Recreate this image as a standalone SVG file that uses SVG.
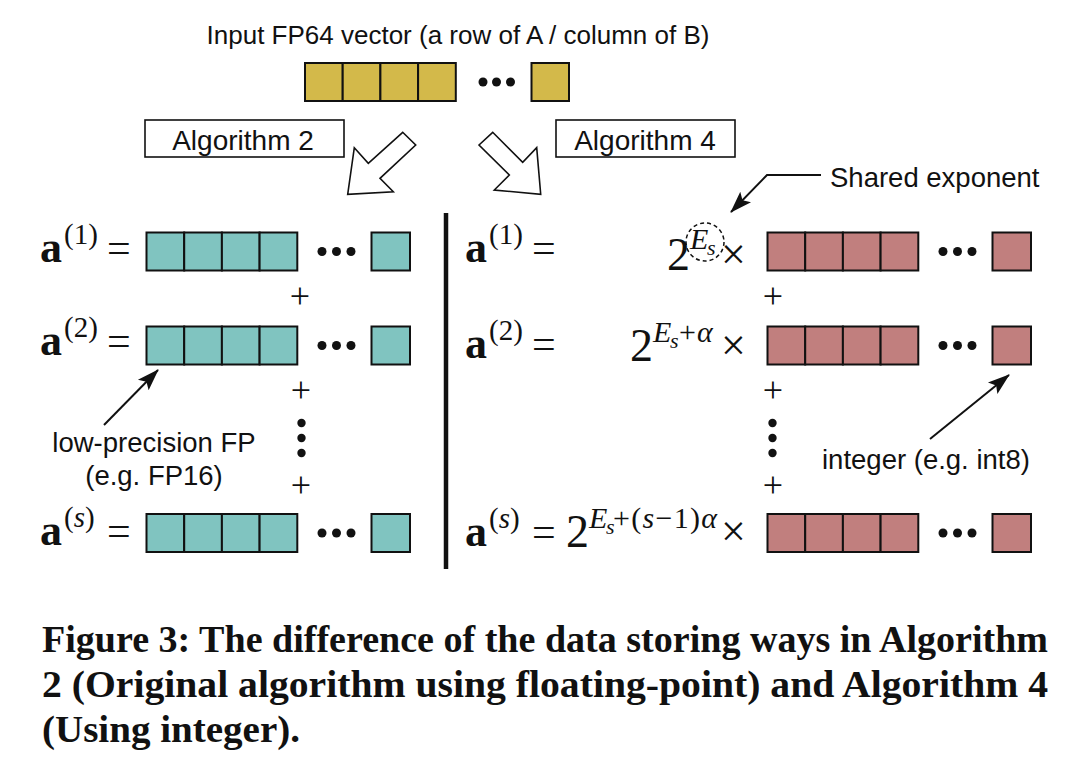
<svg xmlns="http://www.w3.org/2000/svg" width="1075" height="784" viewBox="0 0 1075 784">
<style>
.lbl{font-family:"Liberation Sans",Arial,sans-serif;fill:#111}
.m{font-family:"Liberation Serif","Times New Roman",serif;fill:#111}
.b{font-weight:bold}
.i{font-style:italic}
.cap{font-family:"Liberation Serif","Times New Roman",serif;font-weight:bold;font-size:38px;fill:#111}
.y{fill:#D3B94A;stroke:#111;stroke-width:2}
.t{fill:#80C4C0;stroke:#111;stroke-width:2}
.r{fill:#C17F7E;stroke:#111;stroke-width:2}
.dot{fill:#111}
.box{fill:#fff;stroke:#111;stroke-width:1.6}
.blk{fill:#fff;stroke:#111;stroke-width:1.6;stroke-linejoin:miter}
.ptr{fill:none;stroke:#111;stroke-width:2}
</style>
<defs>
<marker id="ah" markerUnits="userSpaceOnUse" markerWidth="22" markerHeight="18" viewBox="0 0 22 18" refX="21" refY="9" orient="auto">
<path d="M0,1.5 L22,9 L0,16.5 L4.5,9 z" fill="#111"/>
</marker>
<g id="cells4">
<rect x="0" y="0" width="37.7" height="38"/>
<rect x="37.7" y="0" width="37.7" height="38"/>
<rect x="75.4" y="0" width="37.7" height="38"/>
<rect x="113.1" y="0" width="37.7" height="38"/>
</g>
</defs>

<g id="title">
<text class="lbl" x="458" y="44" font-size="26" text-anchor="middle">Input FP64 vector (a row of A / column of B)</text>
</g>

<g id="input-vector" class="y">
<use href="#cells4" x="305" y="63"/>
<circle class="dot" cx="483" cy="82" r="4.5" stroke="none"/>
<circle class="dot" cx="496.5" cy="82" r="4.5" stroke="none"/>
<circle class="dot" cx="510.5" cy="82" r="4.5" stroke="none"/>
<rect x="531.5" y="63" width="37.5" height="38"/>
</g>

<g id="label-alg2">
<rect class="box" x="145" y="120" width="199" height="37"/>
<text class="lbl" x="243" y="150" font-size="28" text-anchor="middle">Algorithm 2</text>
</g>
<g id="label-alg4">
<rect class="box" x="556" y="120" width="179" height="37"/>
<text class="lbl" x="645" y="150" font-size="28" text-anchor="middle">Algorithm 4</text>
</g>

<g id="arrow-alg2">
<polygon class="blk" points="347.7,194.3 354.3,147.7 368.3,163.3 402.7,132.3 415.7,145 380,178.3 393.3,191.7"/>
</g>
<g id="arrow-alg4">
<polygon class="blk" points="479,145 492.7,132.3 522.7,162.3 536.7,147.7 540.7,194.3 494.3,190 509.3,175"/>
</g>

<g id="divider">
<line x1="446" y1="213" x2="446" y2="569" stroke="#111" stroke-width="4.5"/>
</g>

<!-- Left: Algorithm 2 -->
<g id="left-row1">
<text class="m b" x="40" y="262" font-size="44">a</text>
<text class="m" x="64" y="244" font-size="29">(1)</text>
<text class="m" x="107" y="262" font-size="42">=</text>
<g class="t"><use href="#cells4" x="146.5" y="232.5"/><rect x="371.5" y="232.5" width="38.5" height="38"/></g>
<circle class="dot" cx="322" cy="251.5" r="4.5"/><circle class="dot" cx="336.5" cy="251.5" r="4.5"/><circle class="dot" cx="351" cy="251.5" r="4.5"/>
</g>
<g id="left-row2">
<text class="m b" x="40" y="355" font-size="44">a</text>
<text class="m" x="64" y="337" font-size="29">(2)</text>
<text class="m" x="107" y="355" font-size="42">=</text>
<g class="t"><use href="#cells4" x="146.5" y="326.5"/><rect x="371.5" y="326.5" width="38.5" height="38"/></g>
<circle class="dot" cx="322" cy="345.5" r="4.5"/><circle class="dot" cx="336.5" cy="345.5" r="4.5"/><circle class="dot" cx="351" cy="345.5" r="4.5"/>
</g>
<g id="left-rows">
<text class="m b" x="40" y="545" font-size="44">a</text>
<text class="m" x="64" y="527" font-size="29">(<tspan class="i">s</tspan>)</text>
<text class="m" x="107" y="545" font-size="42">=</text>
<g class="t"><use href="#cells4" x="146.5" y="514"/><rect x="371.5" y="514" width="38.5" height="38"/></g>
<circle class="dot" cx="322" cy="533" r="4.5"/><circle class="dot" cx="336.5" cy="533" r="4.5"/><circle class="dot" cx="351" cy="533" r="4.5"/>
</g>
<g id="left-sum">
<text class="m" x="300" y="308" font-size="36" text-anchor="middle">+</text>
<text class="m" x="301" y="402" font-size="36" text-anchor="middle">+</text>
<circle class="dot" cx="301.5" cy="423" r="4.2"/><circle class="dot" cx="301.5" cy="438" r="4.2"/><circle class="dot" cx="301.5" cy="453" r="4.2"/>
<text class="m" x="301" y="497" font-size="36" text-anchor="middle">+</text>
</g>
<g id="label-lowprec">
<text class="lbl" x="154" y="452" font-size="27.5" text-anchor="middle">low-precision FP</text>
<text class="lbl" x="154" y="485" font-size="27.5" text-anchor="middle">(e.g. FP16)</text>
</g>

<!-- Right: Algorithm 4 -->
<g id="right-row1">
<text class="m b" x="465" y="262" font-size="44">a</text>
<text class="m" x="489" y="244" font-size="29">(1)</text>
<text class="m" x="532" y="262" font-size="42">=</text>
<text class="m" x="667" y="270" font-size="46">2</text>
<text class="m i" x="690" y="249" font-size="30">E</text>
<text class="m i" x="707" y="255" font-size="22">s</text>
<circle cx="705" cy="242" r="19" fill="none" stroke="#111" stroke-width="1.5" stroke-dasharray="4 3"/>
<text class="m" x="721" y="269" font-size="44">×</text>
<g class="r"><use href="#cells4" x="767.5" y="232.5"/><rect x="992.5" y="232.5" width="38.5" height="38"/></g>
<circle class="dot" cx="943" cy="251.5" r="4.5"/><circle class="dot" cx="957.5" cy="251.5" r="4.5"/><circle class="dot" cx="972" cy="251.5" r="4.5"/>
</g>
<g id="right-row2">
<text class="m b" x="465" y="358" font-size="44">a</text>
<text class="m" x="489" y="340" font-size="29">(2)</text>
<text class="m" x="532" y="358" font-size="42">=</text>
<text class="m" x="630" y="361" font-size="46">2</text>
<text class="m i" x="653" y="342" font-size="30">E</text>
<text class="m i" x="670" y="348" font-size="22">s</text>
<text class="m" x="679" y="342" font-size="30">+</text>
<text class="m i" x="697" y="342" font-size="30">α</text>
<text class="m" x="721" y="360" font-size="44">×</text>
<g class="r"><use href="#cells4" x="767.5" y="326.5"/><rect x="992.5" y="326.5" width="38.5" height="38"/></g>
<circle class="dot" cx="943" cy="345.5" r="4.5"/><circle class="dot" cx="957.5" cy="345.5" r="4.5"/><circle class="dot" cx="972" cy="345.5" r="4.5"/>
</g>
<g id="right-rows">
<text class="m b" x="465" y="546" font-size="44">a</text>
<text class="m" x="489" y="528" font-size="29">(<tspan class="i">s</tspan>)</text>
<text class="m" x="532" y="546" font-size="42">=</text>
<text class="m" x="566" y="547" font-size="46">2</text>
<text class="m i" x="589" y="528" font-size="30">E</text>
<text class="m i" x="606" y="534" font-size="22">s</text>
<text class="m" x="613" y="528" font-size="30" textLength="104" lengthAdjust="spacing">+(<tspan class="i">s</tspan>−1)<tspan class="i">α</tspan></text>
<text class="m" x="721" y="546" font-size="44">×</text>
<g class="r"><use href="#cells4" x="767.5" y="514"/><rect x="992.5" y="514" width="38.5" height="38"/></g>
<circle class="dot" cx="943" cy="533" r="4.5"/><circle class="dot" cx="957.5" cy="533" r="4.5"/><circle class="dot" cx="972" cy="533" r="4.5"/>
</g>
<g id="right-sum">
<text class="m" x="773" y="308" font-size="36" text-anchor="middle">+</text>
<text class="m" x="773" y="402" font-size="36" text-anchor="middle">+</text>
<circle class="dot" cx="772.5" cy="423" r="4.2"/><circle class="dot" cx="772.5" cy="438" r="4.2"/><circle class="dot" cx="772.5" cy="453" r="4.2"/>
<text class="m" x="773" y="497" font-size="36" text-anchor="middle">+</text>
</g>
<g id="label-shared">
<text class="lbl" x="830" y="187" font-size="27.5">Shared exponent</text>
</g>
<g id="label-integer">
<text class="lbl" x="822" y="469" font-size="27.5">integer (e.g. int8)</text>
</g>

<g id="connectors">
<path class="ptr" d="M821,175 L767,175 L731,212" marker-end="url(#ah)"/>
<path class="ptr" d="M104,425 L158,370" marker-end="url(#ah)"/>
<path class="ptr" d="M930,439 L1009,375" marker-end="url(#ah)"/>
</g>

<g id="caption">
<text class="cap" x="42" y="652" textLength="1006" lengthAdjust="spacingAndGlyphs">Figure 3: The difference of the data storing ways in Algorithm</text>
<text class="cap" x="42" y="697" textLength="1006" lengthAdjust="spacingAndGlyphs">2 (Original algorithm using floating-point) and Algorithm 4</text>
<text class="cap" x="42" y="742" textLength="258" lengthAdjust="spacingAndGlyphs">(Using integer).</text>
</g>
</svg>
